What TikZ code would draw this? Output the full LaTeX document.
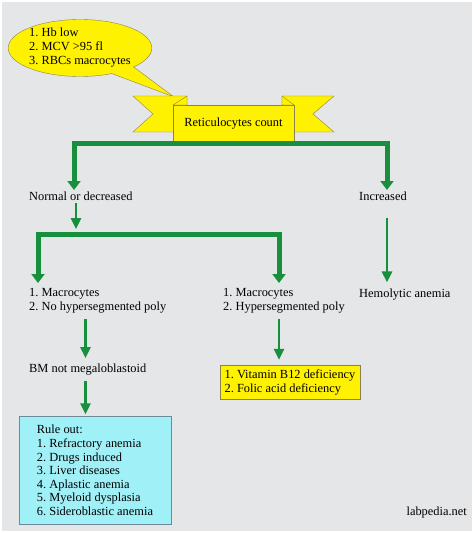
\documentclass[tikz,border=0pt]{standalone}
\usepackage{fontspec}
\setmainfont{Liberation Serif}
\usetikzlibrary{arrows.meta,shapes.callouts,calc}
\definecolor{bggray}{HTML}{E5E6E8}
\definecolor{flowgreen}{HTML}{178F3C}
\definecolor{banneryellow}{HTML}{FFF200}
\definecolor{bannerline}{HTML}{8A8250}
\definecolor{boxcyan}{HTML}{A0F0F8}
\definecolor{cyanline}{HTML}{6E8A98}
\tikzset{
  txt/.style={inner sep=0pt, anchor=west, align=left, font=\fontsize{12.4}{14}\selectfont},
  yellowbox/.style={draw=bannerline, fill=banneryellow},
  barline/.style={line width=5pt, color=flowgreen, {Triangle[width=13pt,length=9pt]}-{Triangle[width=13pt,length=9pt]}},
  arr/.style={line width=2.6pt, color=flowgreen, -{Triangle[width=10pt,length=11pt]}},
}
\begin{document}
\frenchspacing
\begin{tikzpicture}[x=1pt,y=-1pt]
  %%%%% BACKGROUND %%%%%
  \useasboundingbox (0,0) rectangle (474,533);
  \fill[white] (0,0) rectangle (474,533);
  \fill[bggray] (2,2) rectangle (472,531);

  %%%%% CALLOUT AND BANNER %%%%%
  \node[ellipse callout, yellowbox, minimum width=133pt, minimum height=57pt, inner sep=0pt,
        callout absolute pointer={(174,97)}, callout pointer arc=22, align=left,
        font=\fontsize{12.4}{14}\selectfont] (signs) at (80,48)
        {1. Hb low\\2. MCV >95 fl\\3. RBCs macrocytes};

  \draw[yellowbox] (133,96) -- (187,96) -- (187,132) -- (133,132) -- (153,114) -- cycle;
  \draw[yellowbox] (282,96) -- (334,96) -- (313,114) -- (334,132) -- (282,132) -- cycle;
  \node[yellowbox, minimum width=121pt, minimum height=38pt, inner sep=0pt,
        font=\fontsize{12.4}{14}\selectfont] (retic) at (233.5,124) {Reticulocytes count};
  \draw[yellowbox] (173,105) -- (187,96) -- (187,105) -- cycle;
  \draw[yellowbox] (282,96) -- (294,105) -- (282,105) -- cycle;

  %%%%% TEXTS %%%%%
  \node[txt] (normal) at (29,196) {Normal or decreased};
  \node[txt] (incr) at (359,196) {Increased};
  \node[txt] (macroA) at (29,301) {1. Macrocytes\\2. No hypersegmented poly};
  \node[txt] (macroB) at (223,301) {1. Macrocytes\\2. Hypersegmented poly};
  \node[txt] (hemo) at (359,294.3) {Hemolytic anemia};
  \node[txt] (bm) at (29,370) {BM not megaloblastoid};

  \node[yellowbox, anchor=center, minimum width=140pt, minimum height=34pt, inner xsep=3pt,
        align=left, font=\fontsize{12.4}{14}\selectfont] (vitbox) at (290,382)
        {1. Vitamin B12 deficiency\\2. Folic acid deficiency};

  \node[draw=cyanline, fill=boxcyan, minimum width=152pt, minimum height=108pt, inner xsep=10pt,
        align=left, font=\fontsize{12.4}{13.6}\selectfont] (ruleout) at (95,470.5)
        {Rule out:\\1. Refractory anemia\\2. Drugs induced\\3. Liver diseases\\4. Aplastic anemia\\5. Myeloid dysplasia\\6. Sideroblastic anemia};

  \node[inner sep=0pt, anchor=east, font=\fontsize{12.4}{14}\selectfont] (site) at (467,513) {labpedia.net};

  %%%%% CONNECTORS %%%%%
  \coordinate (tipN) at (74,190);
  \coordinate (tipI) at (387,190);
  \coordinate (tipMA) at (38,283);
  \coordinate (tipMB) at (279,283);
  \coordinate (bar2) at (150,234);
  \coordinate (colN) at (76,0);
  \coordinate (colA) at (85.5,0);

  \draw[barline] (tipN) |- (retic.south) -| (tipI);
  \draw[barline] (tipMA) |- (bar2) -| (tipMB);

  \draw[arr] ($(colN |- normal.south)+(0,2)$) -- ($(colN |- bar2)+(0,-5)$);
  \draw[arr] ($(tipI |- incr.south)+(0,17)$) -- ($(tipI |- hemo.north)+(0,-6)$);
  \draw[arr] ($(colA |- macroA.south)+(0,5.5)$) -- ($(colA |- bm.north)+(0,-6)$);
  \draw[arr] ($(colA |- bm.south)+(0,5)$) -- ($(colA |- ruleout.north)+(0,-2)$);
  \draw[arr] ($(tipMB |- macroB.south)+(0,5)$) -- ($(tipMB |- vitbox.north)+(0,-5)$);
\end{tikzpicture}
\end{document}
